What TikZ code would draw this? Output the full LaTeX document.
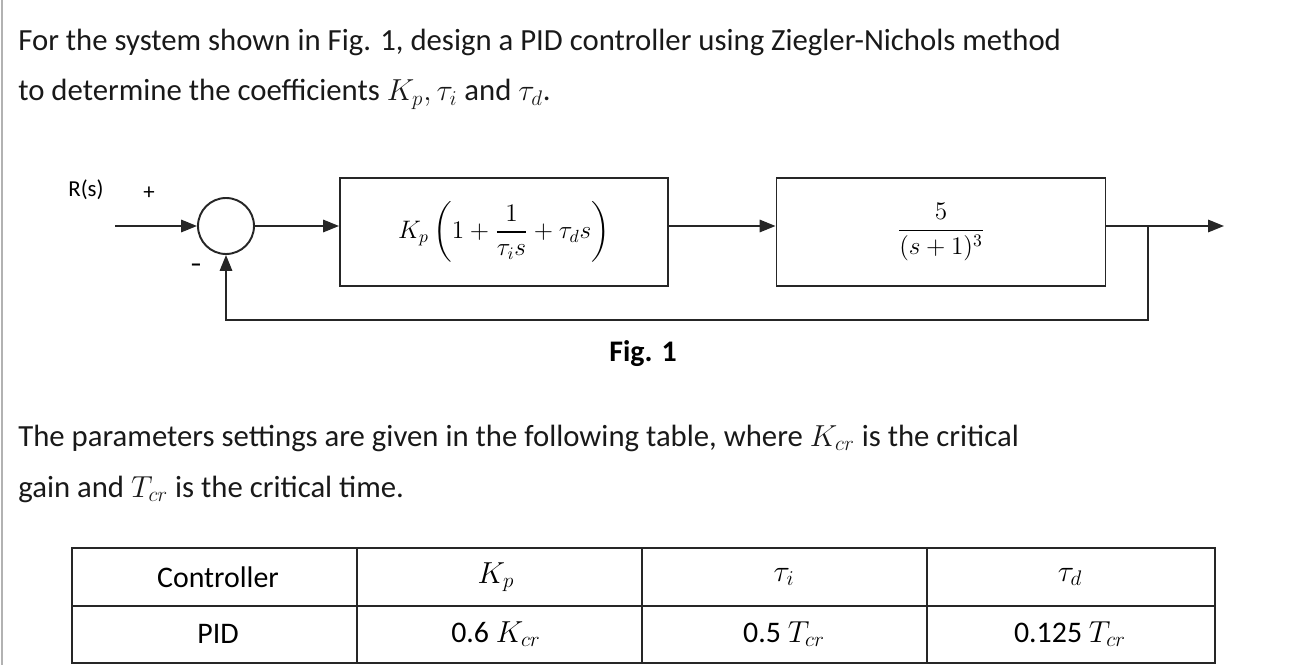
\documentclass[tikz,border=0pt]{standalone}
\usepackage{amsmath}
\usepackage{fontspec}
\setmainfont{Carlito}
\usetikzlibrary{arrows.meta}
\begin{document}
\begin{tikzpicture}[x=0.02cm,y=-0.02cm,
  line/.style={line width=1.1pt,draw=black!85},
  arr/.style={line, -{Triangle[length=9pt,width=7pt]}},
  blk/.style={line, draw, minimum width=#1*0.02cm, minimum height=108*0.02cm, inner sep=0pt},
  txt/.style={anchor=base west, font=\fontsize{17.5}{20}\selectfont, inner sep=0pt, text=black!90},
  small/.style={font=\fontsize{13}{15}\selectfont, inner sep=0pt},
  cell/.style={font=\fontsize{17}{20}\selectfont, inner sep=0pt}]
\useasboundingbox (0,0) rectangle (1311,665);
\draw[black!30, line width=1pt] (2,0) -- (2,665);
\node[txt] (t1) at (18,51) {For the system shown in Fig. 1, design a PID controller using Ziegler-Nichols method};
\node[txt] (t2) at (18,101) {to determine the coefficients $K_p, \tau_i$ and $\tau_d$.};
\node[small] (R) at (86,190) {R(s)};
\node[small] (plus) at (149,193) {+};
\node[small] (minus) at (196,268) {\textbf{--}};
\coordinate (in) at (115,226);
\node[line, draw, circle, minimum size=56*0.02cm, inner sep=0pt] (sum) at (226,226) {};
\node[blk=328] (b1) at (504,232) {\fontsize{14}{16}\selectfont$K_p\left(1+\dfrac{1}{\tau_i s}+\tau_d s\right)$};
\node[blk=329] (b2) at (941,232) {\fontsize{14}{16}\selectfont$\dfrac{5}{(s+1)^3}$};
\draw[arr] (in) -- (sum.west);
\draw[arr] (sum.east) -- (b1.west |- sum.east);
\draw[arr] (b1.east |- 0,226) -- (b2.west |- 0,226);
\coordinate (br) at (1148,226);
\coordinate (out) at (1224,226);
\draw[arr] (b2.east |- 0,226) -- (out);
\coordinate (fb1) at (1148,320);
\coordinate (fb2) at (226,320);
\draw[arr] (br) -- (fb1) -- (fb2) -- (sum.south);
\node[font=\fontsize{17}{20}\selectfont\rmfamily\bfseries, inner sep=0pt] (fig) at (643,354) {Fig. 1};
\node[txt] (t3) at (18,446) {The parameters settings are given in the following table, where $K_{cr}$ is the critical};
\node[txt] (t4) at (18,497) {gain and $T_{cr}$ is the critical time.};
% table
\draw[line] (72,548) rectangle (1215,663);
\draw[line] (72,606) -- (1215,606);
\draw[line] (357,548) -- (357,663);
\draw[line] (642,548) -- (642,663);
\draw[line] (927,548) -- (927,663);
\node[cell] (c11) at (218,577) {Controller};
\node[cell] (c12) at (496,577) {$K_p$};
\node[cell] (c13) at (784,577) {$\tau_i$};
\node[cell] (c14) at (1070,577) {$\tau_d$};
\node[cell] (c21) at (218,634) {PID};
\node[cell] (c22) at (496,634) {0.6 $K_{cr}$};
\node[cell] (c23) at (784,634) {0.5 $T_{cr}$};
\node[cell] (c24) at (1070,634) {0.125 $T_{cr}$};
\end{tikzpicture}
\end{document}
